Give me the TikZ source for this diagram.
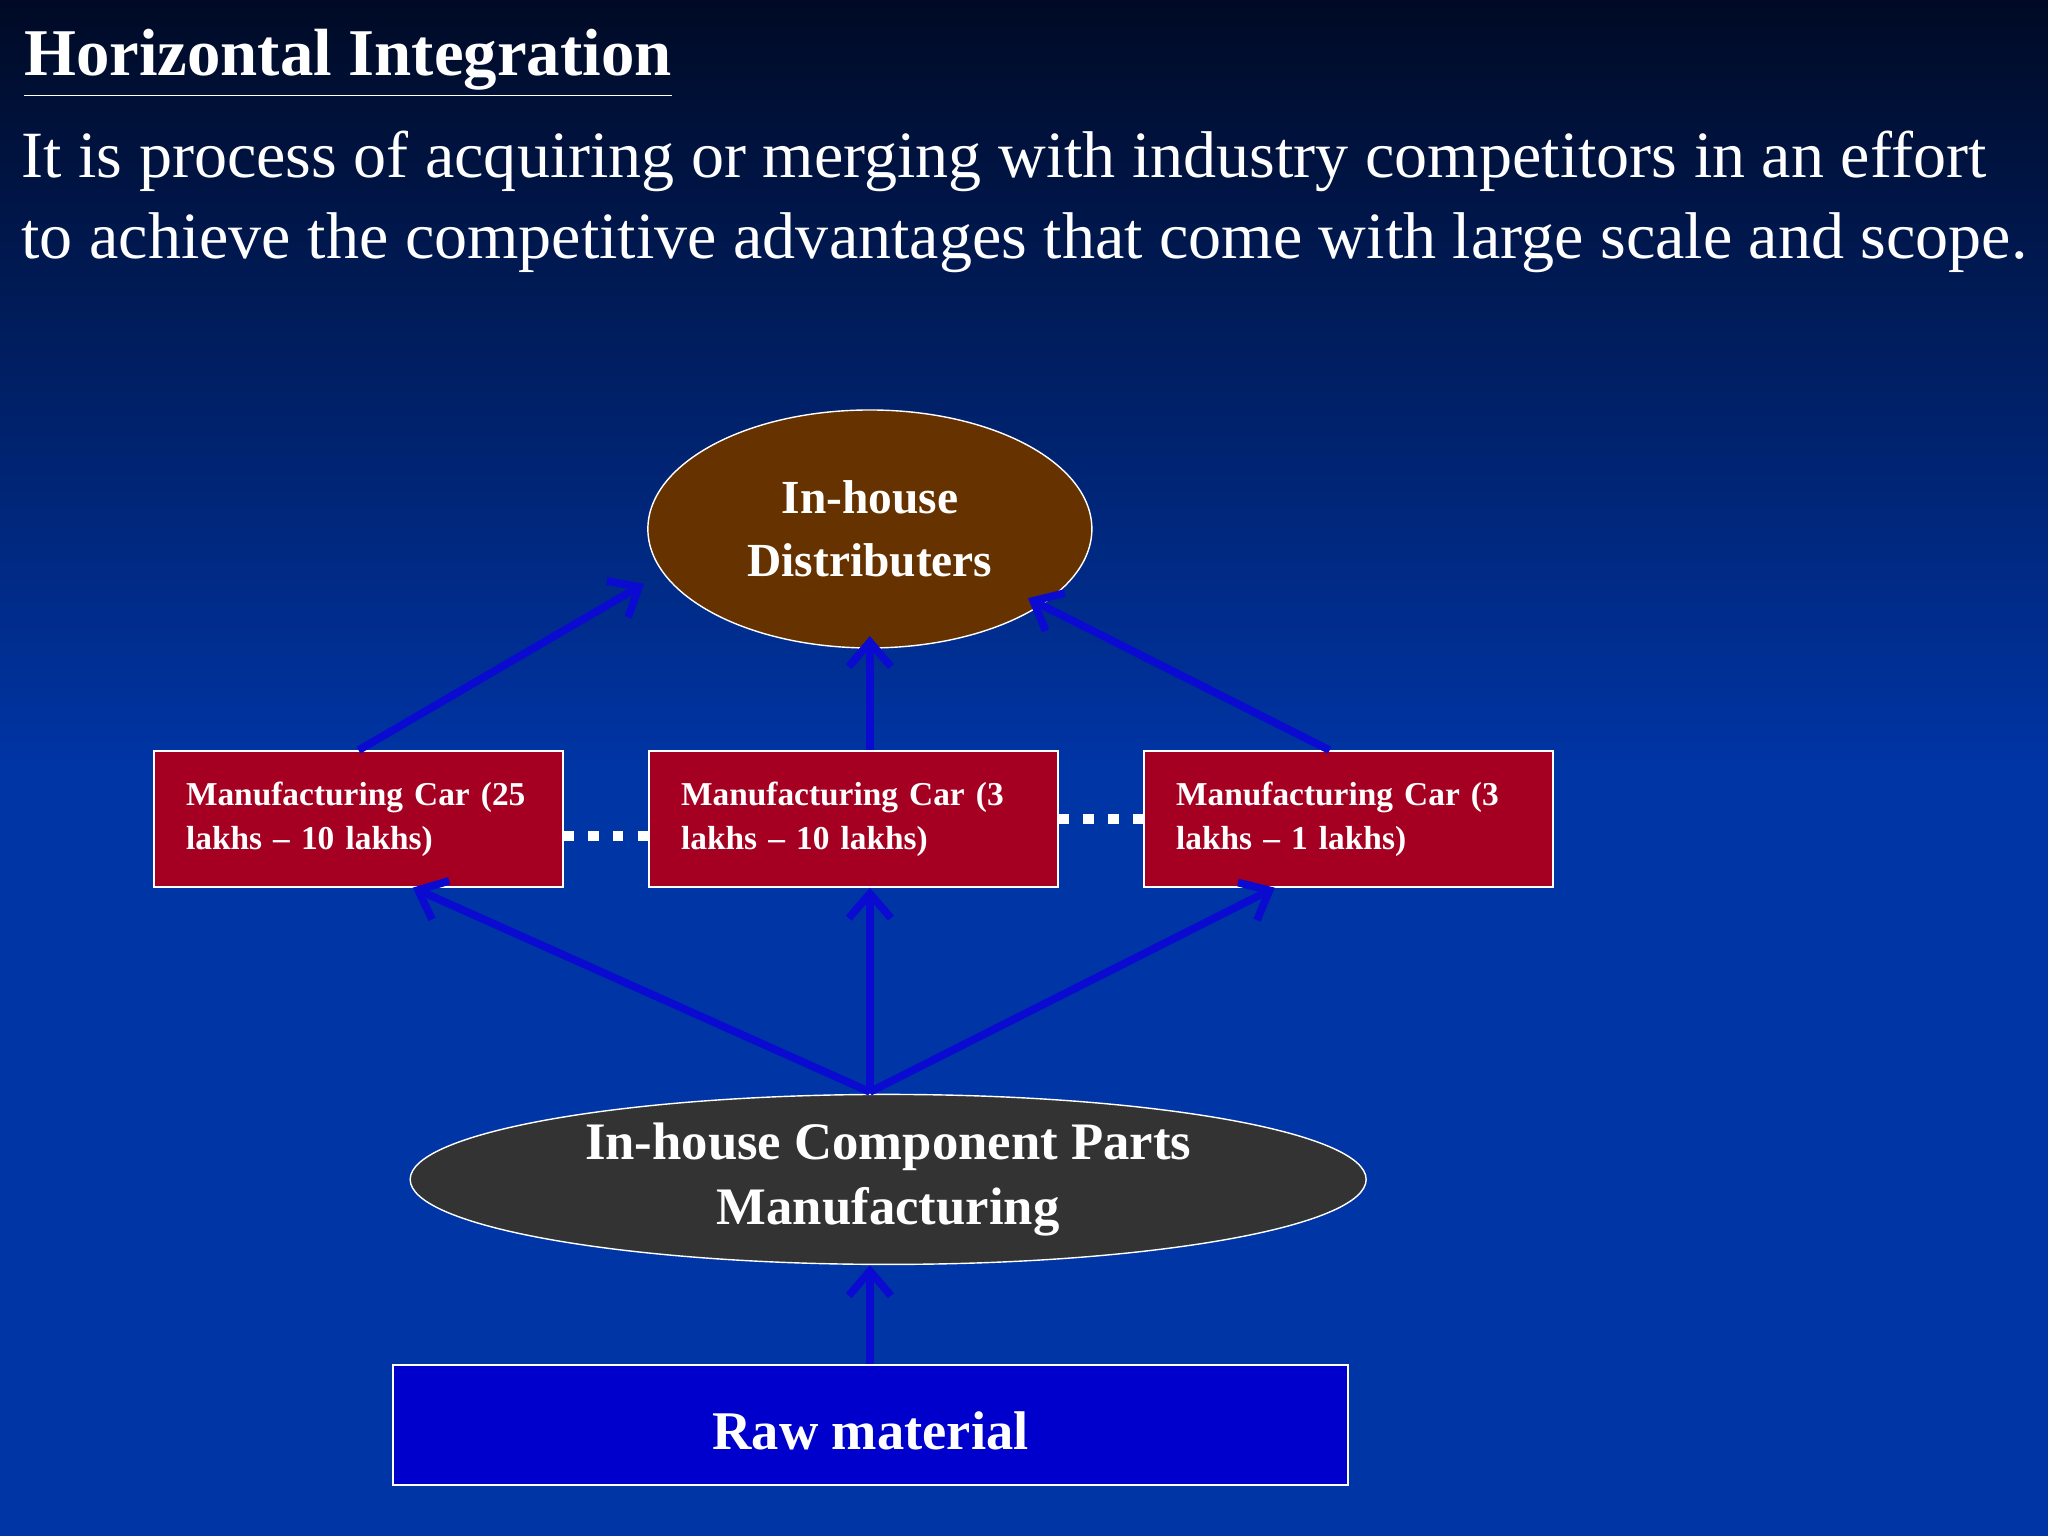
\documentclass[tikz,border=0pt]{standalone}
\usepackage{fontspec}
\setmainfont{Liberation Serif}
\usetikzlibrary{shapes.geometric,arrows.meta}
\definecolor{brownfill}{HTML}{663300}
\definecolor{redfill}{HTML}{A50021}
\definecolor{grayfill}{HTML}{333333}
\definecolor{rawfill}{HTML}{0000CC}
\definecolor{arrowblue}{HTML}{0A0AD0}
\definecolor{bgtop}{HTML}{000A25}
\definecolor{bgbot}{HTML}{0035A5}
\tikzset{
  mfg/.style={draw=white,fill=redfill,minimum width=4.09cm,minimum height=1.36cm,
    text width=3.45cm,align=left,text=white,font=\fontsize{9.5}{12.5}\selectfont\bfseries},
  link/.style={arrowblue,line width=2.2pt,-{Straight Barb[length=7pt,width=12pt]}},
  dots/.style={white,line width=3pt,dash pattern=on 3pt off 4pt}
}
\begin{document}
\begin{tikzpicture}[x=0.01306cm,y=-0.01306cm]
  \shade[top color=bgtop,bottom color=bgbot,middle color=bgbot] (0,0) rectangle (1568,1176);
  \useasboundingbox (0,0) rectangle (1568,1176);
  \node[anchor=base west,inner sep=0pt,text=white,font=\fontsize{19}{22}\selectfont\bfseries] (title) at (18,58) {\underline{Horizontal Integration}};
  \node[anchor=north west,inner sep=0pt,text=white,align=left,font=\fontsize{18.8}{23}\selectfont] (body) at (16,100)
    {It is process of acquiring or merging with industry competitors in an effort\\to achieve the competitive advantages that come with large scale and scope.};

  \node[ellipse,draw=white,fill=brownfill,minimum width=4.44cm,minimum height=2.38cm,inner sep=0pt,text=white,align=center,font=\fontsize{13.5}{18}\selectfont\bfseries] (dist) at (666,405) {In-house\\Distributers};
  \node[mfg] (m1) at (274.5,627) {Manufacturing Car (25 lakhs -- 10 lakhs)};
  \node[mfg] (m2) at (653.5,627) {Manufacturing Car (3 lakhs -- 10 lakhs)};
  \node[mfg] (m3) at (1032.5,627) {Manufacturing Car (3 lakhs -- 1 lakhs)};
  \node[ellipse,draw=white,fill=grayfill,minimum width=9.56cm,minimum height=1.70cm,inner sep=0pt,text=white,align=center,font=\fontsize{15}{18.5}\selectfont\bfseries] (parts) at (680,903) {In-house Component Parts\\Manufacturing};
  \node[draw=white,fill=rawfill,minimum width=9.55cm,minimum height=1.2cm,text=white,font=\fontsize{15.5}{19}\selectfont\bfseries] (raw) at (666.5,1091) {\raisebox{-14pt}{Raw material}};

  \coordinate (d1) at (493,447);
  \coordinate (d2) at (666,487);
  \coordinate (d3) at (787,458);
  \coordinate (hub) at (666,836);

  \path[dots] (m1.east) ++(0,13) edge ([yshift=-13*0.01306cm]m2.west);
  \path[dots] (m2.east) edge (m3.west);

  \path[link] (m1.north) edge (d1);
  \path[link] (m2.north -| d2) edge (d2);
  \path[link] (m3.north -| 1018,0) edge (d3);
  \path[link] (hub) edge (m1.south -| 316,0);
  \path[link] (hub) edge (m2.south -| hub);
  \path[link] (hub) edge (m3.south -| 976,0);
  \path[link] (raw.north -| hub) edge (parts.south -| hub);
\end{tikzpicture}
\end{document}
